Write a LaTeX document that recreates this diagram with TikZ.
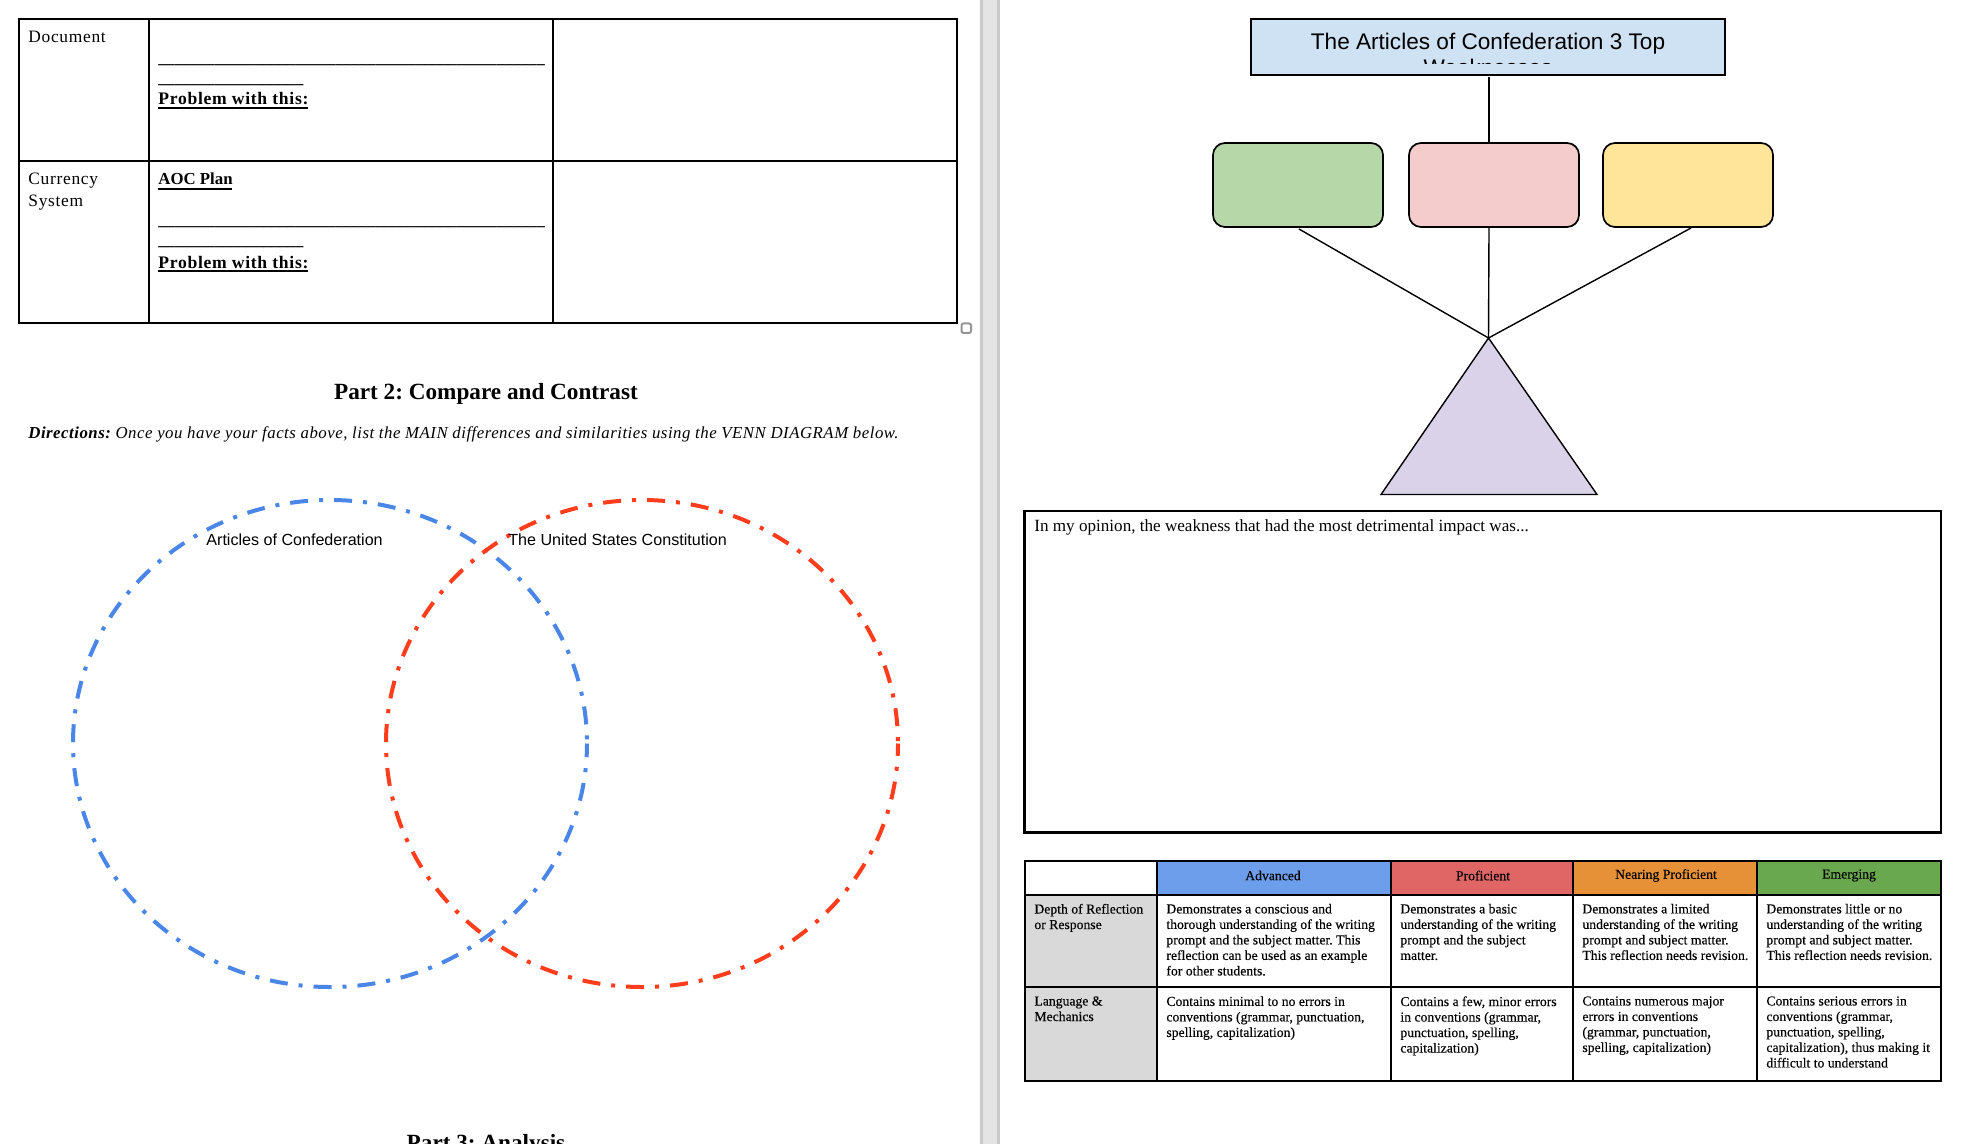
\documentclass[tikz,border=0pt]{standalone}
\usepackage{fontspec}
\setmainfont{Liberation Serif}
\newfontfamily\arialf{Liberation Sans}
\newfontfamily\spacedf[LetterSpace=4]{Liberation Serif}
\newfontfamily\dirf[LetterSpace=3]{Liberation Serif}
\newfontfamily\cellf[FakeBold=0.25]{Liberation Serif}
\usetikzlibrary{shapes.geometric}
\definecolor{tbluefill}{HTML}{CFE2F3}
\definecolor{tgreen}{HTML}{B6D7A8}
\definecolor{tpink}{HTML}{F4CCCC}
\definecolor{tyellow}{HTML}{FFE599}
\definecolor{tpurple}{HTML}{D9D2E9}
\definecolor{vblue}{HTML}{4A86E8}
\definecolor{vred}{HTML}{FF3D1C}
\definecolor{hblue}{HTML}{6D9EEB}
\definecolor{hred}{HTML}{E06666}
\definecolor{horange}{HTML}{E69138}
\definecolor{hgreen}{HTML}{6AA84F}
\definecolor{hgray}{HTML}{D9D9D9}
\definecolor{gutteredge}{HTML}{C9C9C9}
\definecolor{gutterin}{HTML}{E4E4E4}
\tikzset{
  x=0.5pt,y=-0.5pt,
  gridline/.style={line width=1pt,black},
  frameline/.style={line width=1.05pt,black},
  cell/.style={anchor=north west,inner sep=0pt,align=left,font=\fontsize{6.85}{7.75}\cellf},
  headtxt/.style={inner sep=0pt,font=\fontsize{6.85}{7.75}\cellf},
  doctxt/.style={anchor=west,inner sep=0pt,font=\fontsize{8.7}{11}\spacedf},
  docbold/.style={anchor=west,inner sep=0pt,font=\fontsize{8.8}{11}\spacedf\bfseries},
  underbar/.style={anchor=west,inner sep=0pt,font=\fontsize{8.05}{11}\selectfont\bfseries},
  rbox/.style={draw=black,line width=0.85pt,rounded corners=6pt},
  conn/.style={draw=black,line width=0.7pt},
  venn/.style={line width=2pt,dash pattern=on 9pt off 5.5pt on 2pt off 5.5pt},
  vlabel/.style={inner sep=0pt,anchor=west,font=\fontsize{8.05}{11}\arialf},
}
\begin{document}
\frenchspacing
\begin{tikzpicture}
\useasboundingbox (0,0) rectangle (1984,1144);
\clip (0,0) rectangle (1984,1144);
\fill[white] (0,0) rectangle (1984,1144);
% gutter
\fill[gutteredge] (980,0) rectangle (1000,1144);
\fill[gutterin] (983,0) rectangle (997,1144);
% top-left table
\draw[frameline] (19,19) rectangle (957,323);
\draw[gridline] (19,161) -- (957,161);
\draw[gridline] (149,19) -- (149,323);
\draw[gridline] (553,19) -- (553,323);
\node[doctxt] (doc) at (28,37) {Document};
\node[doctxt] (cur1) at (28,181) {Currency};
\node[doctxt] (cur2) at (28,202.5) {System};
\node[underbar] (u1) at (158,65) {\_\_\_\_\_\_\_\_\_\_\_\_\_\_\_\_\_\_\_\_\_\_\_\_\_\_\_\_\_\_\_\_\_\_\_\_\_\_\_\_\_\_\_\_\_\_\_\_};
\node[underbar] (u2) at (158,85) {\_\_\_\_\_\_\_\_\_\_\_\_\_\_\_\_\_\_};
\node[docbold] (p1) at (158,99) {Problem with this:};
\node[anchor=west,inner sep=0pt,font=\fontsize{8.4}{11}\selectfont\bfseries] (aoc) at (158,179) {AOC Plan};
\node[underbar] (u3) at (158,227) {\_\_\_\_\_\_\_\_\_\_\_\_\_\_\_\_\_\_\_\_\_\_\_\_\_\_\_\_\_\_\_\_\_\_\_\_\_\_\_\_\_\_\_\_\_\_\_\_};
\node[underbar] (u4) at (158,247) {\_\_\_\_\_\_\_\_\_\_\_\_\_\_\_\_\_\_};
\node[docbold] (p2) at (158,263) {Problem with this:};
\draw[line width=1pt] (158,108.5) -- (308,108.5);
\draw[line width=1pt] (158,189) -- (232,189);
\draw[line width=1pt] (158,271.5) -- (308,271.5);
% handle
\draw[rounded corners=1pt,line width=1pt,draw=black!42,fill=white] (961.5,323.5) rectangle (971,333);
% headings
\node[inner sep=0pt,font=\fontsize{11.6}{14}\selectfont\bfseries] (part2) at (486,394) {Part 2: Compare and Contrast};
\node[anchor=west,inner sep=0pt,font=\fontsize{8.4}{11}\dirf\itshape] (dirs) at (28,434) {\textbf{Directions:} Once you have your facts above, list the MAIN differences and similarities using the VENN DIAGRAM below.};
\node[inner sep=0pt,font=\fontsize{11.6}{14}\selectfont\bfseries] (part3) at (486,1145) {Part 3: Analysis};
% venn
\draw[venn,vblue,dash phase=2.15pt] (330,743.5) ellipse [x radius=257,y radius=243.5];
\draw[venn,vred,dash phase=2.85pt] (642,743.5) ellipse [x radius=256,y radius=243.5];
\node[vlabel] (la) at (206,540) {Articles of Confederation};
\node[vlabel] (lb) at (508,540) {The United States Constitution};
% title
\node[draw=black,line width=1pt,fill=tbluefill,minimum width=237pt,minimum height=28.2pt,inner sep=0pt] (title) at (1488,47.3) {};
\node[inner sep=0pt,font=\fontsize{11.3}{14}\arialf] (t1) at (1488,43.5) {The Articles of Confederation 3 Top};
\begin{scope}
\clip (1300,50) rectangle (1680,63.6);
\node[inner sep=0pt,font=\fontsize{11.3}{14}\arialf] (t2) at (1488,67) {Weaknesses};
\end{scope}
% boxes
\node[rbox,fill=tgreen,minimum width=85pt,minimum height=42pt,inner sep=0pt] (g) at (1298,185) {};
\node[rbox,fill=tpink,minimum width=85pt,minimum height=42pt,inner sep=0pt] (k) at (1494,185) {};
\node[rbox,fill=tyellow,minimum width=85pt,minimum height=42pt,inner sep=0pt] (y) at (1688,185) {};
\coordinate (apex) at (1488.5,338);
\coordinate (bl) at (1381,494.5);
\coordinate (br) at (1597,494.5);
\coordinate (gb) at (1299,229);
\coordinate (kb) at (1489,227);
\coordinate (yb) at (1691,228);
\coordinate (tb) at (1489,77);
\coordinate (kt) at (1489,143);
\draw[conn] (tb) -- (kt);
\draw[conn] (gb) -- (apex);
\draw[conn] (kb) -- (apex);
\draw[conn] (yb) -- (apex);
\draw[conn,fill=tpurple,line join=miter] (apex) -- (br) -- (bl) -- cycle;
% opinion box
\draw[frameline] (1024.5,511) rectangle (1941,832.5);
\node[anchor=west,inner sep=0pt,font=\fontsize{8.55}{10}\selectfont] (op) at (1034,527.5) {In my opinion, the weakness that had the most detrimental impact was...};
% rubric fills
\fill[hblue] (1157,861) rectangle (1391,895);
\fill[hred] (1391,861) rectangle (1573,895);
\fill[horange] (1573,861) rectangle (1757,895);
\fill[hgreen] (1757,861) rectangle (1941,895);
\fill[hgray] (1025,895) rectangle (1157,1081);
% rubric grid
\draw[frameline] (1025,861) rectangle (1941,1081);
\draw[gridline] (1025,895) -- (1941,895);
\draw[gridline] (1025,987) -- (1941,987);
\draw[gridline] (1157,861) -- (1157,1081);
\draw[gridline] (1391,861) -- (1391,1081);
\draw[gridline] (1573,861) -- (1573,1081);
\draw[gridline] (1757,861) -- (1757,1081);
\node[headtxt] (h1) at (1273,875.5) {Advanced};
\node[headtxt] (h2) at (1483,875.5) {Proficient};
\node[headtxt] (h3) at (1666,875.5) {Nearing Proficient};
\node[headtxt] (h4) at (1849,875.5) {Emerging};
\node[cell] (a0) at (1034,903.5) {Depth of Reflection\\or Response};
\node[cell] (a1) at (1166,903.5) {Demonstrates a conscious and\\thorough understanding of the writing\\prompt and the subject matter. This\\reflection can be used as an example\\for other students.};
\node[cell] (a2) at (1400,903.5) {Demonstrates a basic\\understanding of the writing\\prompt and the subject\\matter.};
\node[cell] (a3) at (1582,903.5) {Demonstrates a limited\\understanding of the writing\\prompt and subject matter.\\This reflection needs revision.};
\node[cell] (a4) at (1766,903.5) {Demonstrates little or no\\understanding of the writing\\prompt and subject matter.\\This reflection needs revision.};
\node[cell] (b0) at (1034,996) {Language \&\\Mechanics};
\node[cell] (b1) at (1166,996) {Contains minimal to no errors in\\conventions (grammar, punctuation,\\spelling, capitalization)};
\node[cell] (b2) at (1400,996) {Contains a few, minor errors\\in conventions (grammar,\\punctuation, spelling,\\capitalization)};
\node[cell] (b3) at (1582,996) {Contains numerous major\\errors in conventions\\(grammar, punctuation,\\spelling, capitalization)};
\node[cell] (b4) at (1766,996) {Contains serious errors in\\conventions (grammar,\\punctuation, spelling,\\capitalization), thus making it\\difficult to understand};
\end{tikzpicture}
\end{document}
